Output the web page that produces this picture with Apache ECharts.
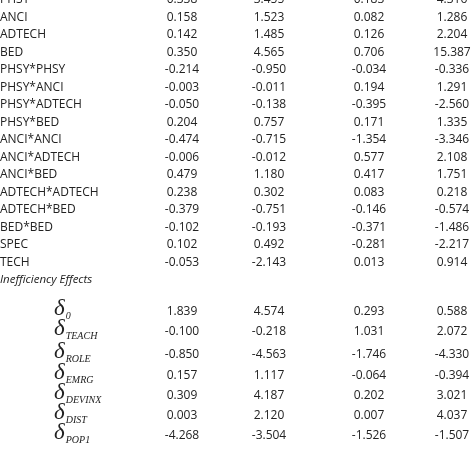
<!DOCTYPE html>
<html><head><meta charset="utf-8">
<script src="https://cdn.jsdelivr.net/npm/echarts@6/dist/echarts.min.js"></script>
<style>html,body{margin:0;padding:0;background:#fff}#c{width:474px;height:474px}</style>
</head><body><div id="c"></div>
<script>
const rowLabels = ['PHSY','ANCI','ADTECH','BED','PHSY*PHSY','PHSY*ANCI','PHSY*ADTECH','PHSY*BED','ANCI*ANCI','ANCI*ADTECH','ANCI*BED','ADTECH*ADTECH','ADTECH*BED','BED*BED','SPEC','TECH'];
const col1 = ['0.338','0.158','0.142','0.350','-0.214','-0.003','-0.050','0.204','-0.474','-0.006','0.479','0.238','-0.379','-0.102','0.102','-0.053'];
const col2 = ['3.455','1.523','1.485','4.565','-0.950','-0.011','-0.138','0.757','-0.715','-0.012','1.180','0.302','-0.751','-0.193','0.492','-2.143'];
const col3 = ['0.183','0.082','0.126','0.706','-0.034','0.194','-0.395','0.171','-1.354','0.577','0.417','0.083','-0.146','-0.371','-0.281','0.013'];
const col4 = ['4.316','1.286','2.204','15.387','-0.336','1.291','-2.560','1.335','-3.346','2.108','1.751','0.218','-0.574','-1.486','-2.217','0.914'];
const sectionTitle = 'Inefficiency Effects';
const deltaSubs = ['0','TEACH','ROLE','EMRG','DEVINX','DIST','POP1'];
const d1 = ['1.839','-0.100','-0.850','0.157','0.309','0.003','-4.268'];
const d2 = ['4.574','-0.218','-4.563','1.117','4.187','2.120','-3.504'];
const d3 = ['0.293','1.031','-1.746','-0.064','0.202','0.007','-1.526'];
const d4 = ['0.588','2.072','-4.330','-0.394','3.021','4.037','-1.507'];

const chart = echarts.init(document.getElementById('c'));
const font = '"Open Sans", "Liberation Sans", sans-serif';
const colX = [182, 269, 369, 452];
const els = [];
function txt(x, y, s, align, extra) {
  els.push({type:'text', x, y, style:Object.assign({text:s, fill:'#222', font:'12px '+font, textAlign:align, textVerticalAlign:'middle'}, extra||{})});
}
rowLabels.forEach((l,i)=>{
  const y = 0 + i*17.5;
  txt(0, y, l, 'left');
  [col1,col2,col3,col4].forEach((c,j)=>txt(colX[j], y, c[i], 'center'));
});
txt(0, 280, sectionTitle, 'left', {font:'italic 11.5px '+font});
const dy = [312, 332, 355, 376, 396, 416, 436];
deltaSubs.forEach((s,i)=>{
  const y = dy[i];
  els.push({type:'text', x:54, y:y-3, style:{text:'{d|δ}{s|'+s+'}', textVerticalAlign:'middle', rich:{
    d:{font:'italic 23px "Liberation Serif", serif', fill:'#222'},
    s:{font:'italic 10px "Liberation Serif", serif', fill:'#222', padding:[14,0,0,1]}
  }}});
  [d1,d2,d3,d4].forEach((c,j)=>txt(colX[j], y, c[i], 'center'));
});
chart.setOption({animation:false, graphic:{elements:els}});
</script></body></html>
